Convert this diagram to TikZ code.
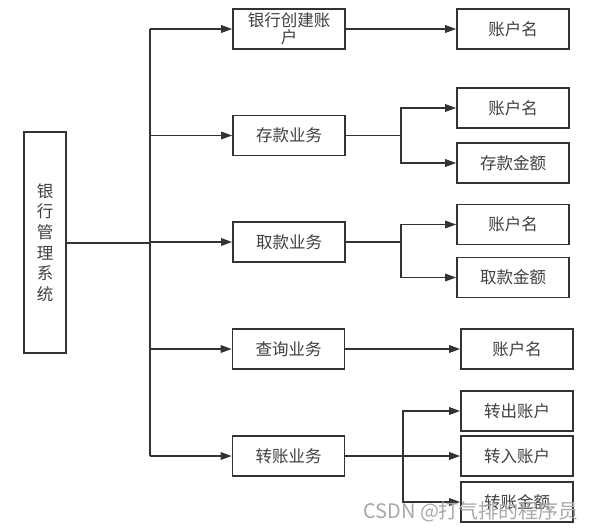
\documentclass[tikz,border=0pt]{standalone}
\usepackage{fontspec}
\setmainfont{Noto Sans CJK SC}
\usetikzlibrary{arrows.meta}
\definecolor{linec}{HTML}{333333}
\definecolor{txtc}{HTML}{404040}
\definecolor{wmark}{HTML}{A8A8A8}
\tikzset{
  box/.style={draw=linec, line width=1.6pt, fill=white, minimum width=112pt, minimum height=40pt, inner sep=0pt, text=txtc, font=\fontsize{16.5}{18.5}\selectfont, align=center},
  rootbox/.style={draw=linec, line width=1.6pt, minimum width=42pt, minimum height=221pt, inner sep=0pt, text=txtc, font=\fontsize{16.5}{20.6}\selectfont, align=center},
  conn/.style={draw=linec, line width=1.6pt},
  arr/.style={conn, -{Triangle[length=11pt,width=7.5pt]}},
  wm/.style={text=wmark, font=\fontsize{20}{22}\selectfont, inner sep=0pt}
}
\begin{document}
\begin{tikzpicture}[x=1pt,y=-1pt]
\useasboundingbox (0,0) rectangle (590,531);
% root
\node[rootbox] (root) at (45,242.5) {银\\行\\管\\理\\系\\统};
% level 2
\node[box] (b1) at (289,29) {银行创建账\\[-1pt]户};
\node[box] (b2) at (289,135.5) {存款业务};
\node[box] (b3) at (289,242) {取款业务};
\node[box] (b4) at (288.5,349) {查询业务};
\node[box] (b5) at (288.5,456) {转账业务};
% level 3
\node[box] (c1) at (513,29) {账户名};
\node[box] (c2) at (513,108) {账户名};
\node[box] (c3) at (513,163) {存款金额};
\node[box] (c4) at (513,224.5) {账户名};
\node[box] (c5) at (513,277.5) {取款金额};
\node[box] (c6) at (517,349) {账户名};
\node[box] (c7) at (517,411) {转出账户};
\node[box] (c8) at (517,456) {转入账户};
\node[box] (c9) at (517,502) {转账金额};
% trunk
\coordinate (tm) at (150,243);
\coordinate (t1) at (150,29);
\coordinate (t2) at (150,135.5);
\coordinate (t3) at (150,242);
\coordinate (t4) at (150,349);
\coordinate (t5) at (150,456);
\draw[conn] (root.east |- tm) -- (tm);
\draw[conn] (t1) -- (t5);
\foreach \i in {1,...,5} \draw[arr] (t\i) -- (b\i.west);
% level 2 -> 3
\draw[arr] (b1.east) -- (c1.west);
\coordinate (s2) at (401,135.5);
\draw[conn] (b2.east) -- (s2);
\draw[arr] (s2) |- (c2.west);
\draw[arr] (s2) |- (c3.west);
\coordinate (s3) at (401,242);
\draw[conn] (b3.east) -- (s3);
\draw[arr] (s3) |- (c4.west);
\draw[arr] (s3) |- (c5.west);
\draw[arr] (b4.east) -- (c6.west);
\coordinate (s5) at (403,456);
\draw[arr] (b5.east) -- (c8.west);
\draw[arr] (s5) |- (c7.west);
\draw[arr] (s5) |- (c9.west);
% watermark
\node[wm, anchor=west] (wmk) at (363,512) {CSDN @打气排的程序员};
\end{tikzpicture}
\end{document}
